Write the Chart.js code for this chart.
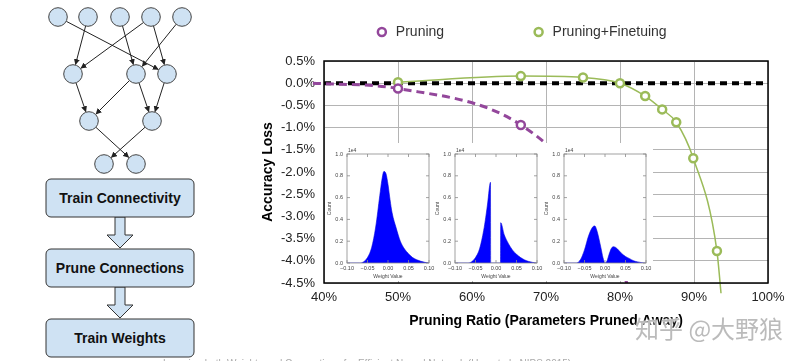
<!DOCTYPE html>
<html><head><meta charset="utf-8">
<script src="https://cdn.jsdelivr.net/npm/chart.js@4.4.0/dist/chart.umd.min.js"></script>
<style>
html,body{margin:0;padding:0;background:#fff;}
body{width:801px;height:361px;overflow:hidden;position:relative;font-family:"Liberation Sans",Arial,sans-serif;}
#diagram{position:absolute;left:0;top:0;}
#main{position:absolute;left:240px;top:0;}
#insets{position:absolute;left:325px;top:143px;width:328px;height:138px;background:#fff;}
.inset{position:absolute;top:0;}
#wm{position:absolute;left:635px;top:316px;font-family:"Noto Sans CJK SC";font-size:24px;line-height:24px;color:rgba(175,175,175,0.85);text-shadow:0 0 2px #fff,0 0 2px #fff;white-space:nowrap;}
#cap{position:absolute;left:163px;top:358px;font-size:10px;line-height:12px;color:#aaa;white-space:nowrap;}
</style></head><body>
<svg id="diagram" width="240" height="361" xmlns="http://www.w3.org/2000/svg">
  <defs>
    <marker id="ah" markerUnits="userSpaceOnUse" markerWidth="6" markerHeight="6" refX="5.5" refY="3" orient="auto">
      <path d="M0,0 L6,3 L0,6 z" fill="#222"/>
    </marker>
  </defs>
  <g id="edges" stroke="#222" stroke-width="1" fill="none"></g>
  <g id="nodes" fill="#cfe2f3" stroke="#444" stroke-width="1"></g>
  <g fill="#cfe2f3" stroke="#333" stroke-width="1">
    <polygon points="115,217 125,217 125,235 133,235 120,248 107,235 115,235"/>
    <polygon points="115,287 125,287 125,305 133,305 120,318 107,305 115,305"/>
    <rect x="46" y="179" width="148" height="38" rx="5"/>
    <rect x="46" y="249" width="148" height="38" rx="5"/>
    <rect x="46" y="319" width="148" height="38" rx="5"/>
  </g>
  <g font-family="Liberation Sans, Arial, sans-serif" font-weight="bold" font-size="14" fill="#111" text-anchor="middle" dominant-baseline="central">
    <text x="120" y="198">Train Connectivity</text>
    <text x="120" y="268">Prune Connections</text>
    <text x="120" y="338">Train Weights</text>
  </g>
</svg>
<canvas id="main" width="561" height="361"></canvas>
<div id="insets">
  <canvas class="inset" id="in1" width="112" height="138" style="left:0px"></canvas>
  <canvas class="inset" id="in2" width="112" height="138" style="left:108px"></canvas>
  <canvas class="inset" id="in3" width="112" height="138" style="left:217px"></canvas>
</div>
<div id="wm">知乎 @大野狼</div>
<div id="cap">Learning both Weights and Connections for Efficient Neural Network (Han et al., NIPS 2015)</div>
<script>
// ---------- data ----------
const seriesLabels = ['Pruning', 'Pruning+Finetuing'];
const pruneX = [38.5, 50, 66.6, 75, 80, 82];
const pruneY = [0.0, -0.12, -0.94, -2.35, -4.1, -5.0];
const finetuneX = [50, 66.6, 75, 80, 83.4, 85.7, 87.6, 89.9, 93.1, 93.65];
const finetuneY = [0.02, 0.16, 0.13, 0.0, -0.29, -0.59, -0.88, -1.69, -3.78, -4.73];
const baselineX = [40, 100];
const baselineY = [0, 0];

const hist1X = [-0.10, -0.07, -0.06, -0.05, -0.04, -0.03, -0.02, -0.015, -0.01, -0.005, 0.00, 0.005, 0.01, 0.02, 0.03, 0.04, 0.05, 0.06, 0.07, 0.08, 0.09, 0.10];
const hist1Y = [0, 0, 0.01, 0.05, 0.14, 0.33, 0.62, 0.76, 0.84, 0.82, 0.72, 0.58, 0.46, 0.32, 0.2, 0.13, 0.085, 0.05, 0.03, 0.016, 0.006, 0];
const hist2X = [-0.10, -0.07, -0.06, -0.05, -0.04, -0.03, -0.025, -0.02, -0.0155, -0.0135, -0.013, 0.011, 0.0115, 0.02, 0.03, 0.04, 0.05, 0.06, 0.07, 0.08, 0.09, 0.10];
const hist2Y = [0, 0, 0.01, 0.05, 0.13, 0.30, 0.42, 0.56, 0.71, 0.74, 0, 0, 0.37, 0.26, 0.18, 0.12, 0.08, 0.05, 0.028, 0.014, 0.005, 0];
const hist3X = [-0.10, -0.07, -0.06, -0.05, -0.04, -0.03, -0.025, -0.02, -0.01, -0.005, 0.00, 0.005, 0.01, 0.015, 0.02, 0.025, 0.03, 0.04, 0.05, 0.06, 0.07, 0.08, 0.09, 0.10];
const hist3Y = [0, 0, 0.03, 0.12, 0.25, 0.33, 0.34, 0.30, 0.14, 0.05, 0.0, 0.02, 0.08, 0.13, 0.15, 0.145, 0.13, 0.09, 0.06, 0.04, 0.02, 0.01, 0.003, 0];

// ---------- network diagram ----------
const nodeRows = [
  {y: 17, xs: [58, 88, 120, 151, 182]},
  {y: 74, xs: [73, 136, 167]},
  {y: 121, xs: [89, 152]},
  {y: 164, xs: [104, 136]}
];
const links = [ // [row, idx, idx in next row]
  [0,0,2],[0,1,0],[0,2,1],[0,3,0],[0,3,2],[0,4,1],
  [1,0,0],[1,1,0],[1,1,1],[1,2,1],
  [2,0,1],[2,1,0]
];
const NS = 'http://www.w3.org/2000/svg';
const R = 9.3;
const eg = document.getElementById('edges');
links.forEach(([r,a,b])=>{
  const x1 = nodeRows[r].xs[a], y1 = nodeRows[r].y, x2 = nodeRows[r+1].xs[b], y2 = nodeRows[r+1].y;
  const dx = x2-x1, dy = y2-y1, L = Math.hypot(dx,dy);
  const l = document.createElementNS(NS,'line');
  l.setAttribute('x1', x1 + dx/L*R); l.setAttribute('y1', y1 + dy/L*R);
  l.setAttribute('x2', x2 - dx/L*(R+0.5)); l.setAttribute('y2', y2 - dy/L*(R+0.5));
  l.setAttribute('marker-end','url(#ah)');
  eg.appendChild(l);
});
const ng = document.getElementById('nodes');
nodeRows.forEach(row=>row.xs.forEach(x=>{
  const c = document.createElementNS(NS,'circle');
  c.setAttribute('cx',x); c.setAttribute('cy',row.y); c.setAttribute('r',R);
  ng.appendChild(c);
}));

// ---------- main chart ----------
const PURPLE = '#93479b', GREEN = '#9bbb59';
const zip = (xs, ys) => xs.map((x,i)=>({x, y: ys[i]}));
const markerRadius = ctx => (ctx.raw && (ctx.raw.x < 40 || ctx.raw.y < -4.5)) ? 0 : 4;

const framePlugin = {
  id: 'frame',
  afterDatasetsDraw(chart) {
    const {ctx, chartArea: a} = chart;
    ctx.save();
    ctx.strokeStyle = '#000'; ctx.lineWidth = 1.5;
    ctx.strokeRect(a.left, a.top, a.right - a.left, a.bottom - a.top);
    ctx.restore();
  }
};
const legendPlugin = {
  id: 'customLegend',
  afterDraw(chart, args, opts) {
    const ctx = chart.ctx;
    ctx.save();
    ctx.font = '14px "Liberation Sans", Arial, sans-serif';
    const items = chart.data.datasets.filter(d => d.label);
    const r = 4.5, gapText = 14, gapItem = opts.gap;
    const widths = items.map(d => r + gapText + ctx.measureText(d.label).width);
    const total = widths.reduce((s,w)=>s+w,0) + gapItem*(items.length-1);
    let x = opts.centerX - total/2;
    items.forEach((d,i)=>{
      const cx = x + r;
      ctx.beginPath(); ctx.arc(cx, opts.y, 4, 0, Math.PI*2);
      ctx.fillStyle = '#fff'; ctx.fill();
      ctx.lineWidth = 2.5; ctx.strokeStyle = d.borderColor; ctx.stroke();
      ctx.fillStyle = '#333'; ctx.textBaseline = 'middle'; ctx.textAlign = 'left';
      ctx.fillText(d.label, cx + gapText, opts.y + 0.5);
      x += widths[i] + gapItem;
    });
    ctx.restore();
  }
};

new Chart(document.getElementById('main'), {
  type: 'line',
  data: {
    datasets: [
      {label: seriesLabels[0], data: zip(pruneX, pruneY), borderColor: PURPLE, backgroundColor: '#fff',
       borderWidth: 3, borderDash: [8,5], pointRadius: markerRadius, pointBorderWidth: 2.5,
       pointBackgroundColor: '#fff', pointBorderColor: PURPLE, cubicInterpolationMode: 'monotone',
       clip: {left: 15, top: 0, right: 0, bottom: 0}},
      {label: seriesLabels[1], data: zip(finetuneX, finetuneY), borderColor: GREEN, backgroundColor: '#fff',
       borderWidth: 1.5, pointRadius: markerRadius, pointBorderWidth: 2.5,
       pointBackgroundColor: '#fff', pointBorderColor: GREEN, cubicInterpolationMode: 'monotone',
       clip: {left: 0, top: 0, right: 0, bottom: 12}},
      {data: zip(baselineX, baselineY), borderColor: '#000', borderWidth: 4, borderDash: [7,5],
       pointRadius: 0, borderCapStyle: 'butt'}
    ]
  },
  options: {
    responsive: false, animation: false, devicePixelRatio: 1,
    layout: {padding: {left: 20, top: 61, right: 33, bottom: 31.6}},
    plugins: {legend: {display: false}, tooltip: {enabled: false},
      customLegend: {centerX: 282, y: 32, gap: 90}},
    scales: {
      x: {type: 'linear', min: 40, max: 100,
        afterFit(s) { s.height = 46.4; },
        border: {display: false},
        grid: {color: '#b4b4b4', lineWidth: 1, drawTicks: false},
        ticks: {stepSize: 10, padding: 7, color: '#222', font: {family: '"Liberation Sans", Arial, sans-serif', size: 13},
          callback: v => v + '%'},
        title: {display: true, text: 'Pruning Ratio (Parameters Pruned Away)', color: '#000', padding: 0,
          font: {family: '"Liberation Sans", Arial, sans-serif', size: 14, weight: 'bold'}}
      },
      y: {type: 'linear', min: -4.5, max: 0.5,
        afterFit(s) { s.width = 64; },
        border: {display: false},
        grid: {color: '#b4b4b4', lineWidth: 1, drawTicks: false},
        ticks: {stepSize: 0.5, padding: 9, color: '#222', font: {family: '"Liberation Sans", Arial, sans-serif', size: 13},
          callback: v => v.toFixed(1) + '%'},
        title: {display: true, text: 'Accuracy Loss', color: '#000', padding: 0,
          font: {family: '"Liberation Sans", Arial, sans-serif', size: 14, weight: 'bold'}}
      }
    }
  },
  plugins: [framePlugin, legendPlugin]
});

// ---------- inset histograms ----------
const insetFrame = {
  id: 'insetFrame',
  afterDraw(chart) {
    const {ctx, chartArea: a, scales: {x, y}} = chart;
    ctx.save();
    ctx.strokeStyle = '#8a8a8a'; ctx.lineWidth = 0.8;
    ctx.strokeRect(a.left, a.top, a.right - a.left, a.bottom - a.top);
    ctx.beginPath();
    x.ticks.forEach(t => { const p = x.getPixelForValue(t.value);
      ctx.moveTo(p, a.bottom); ctx.lineTo(p, a.bottom - 3); ctx.moveTo(p, a.top); ctx.lineTo(p, a.top + 3); });
    y.ticks.forEach(t => { const p = y.getPixelForValue(t.value);
      ctx.moveTo(a.left, p); ctx.lineTo(a.left + 3, p); ctx.moveTo(a.right, p); ctx.lineTo(a.right - 3, p); });
    ctx.stroke();
    ctx.fillStyle = '#444'; ctx.font = '5px "Liberation Sans", Arial, sans-serif';
    ctx.textBaseline = 'bottom'; ctx.textAlign = 'left';
    ctx.fillText('1e4', a.left + 1, a.top - 0.5);
    ctx.restore();
  }
};
const fmt = (v, d) => (v < -1e-9 ? '\u2212' : '') + Math.abs(v).toFixed(d);
function makeInset(id, xs, ys) {
  new Chart(document.getElementById(id), {
    type: 'line',
    data: {datasets: [{data: zip(xs, ys), fill: 'origin', backgroundColor: '#0000ff', borderColor: '#0000dd',
      borderWidth: 0.6, pointRadius: 0, cubicInterpolationMode: 'monotone'}]},
    options: {
      responsive: false, animation: false, devicePixelRatio: 1,
      layout: {padding: {left: 2, top: 11, right: 8, bottom: 1.4}},
      plugins: {legend: {display: false}, tooltip: {enabled: false}},
      scales: {
        x: {type: 'linear', min: -0.1, max: 0.1, afterFit(s) { s.height = 16.6; },
          border: {display: false}, grid: {display: false, drawTicks: false},
          ticks: {stepSize: 0.05, padding: 2, color: '#444', maxRotation: 0, autoSkip: false,
            font: {family: '"Liberation Sans", Arial, sans-serif', size: 5.5}, callback: v => fmt(v, 2)},
          title: {display: true, text: 'Weight Value', color: '#444', padding: 0,
            font: {family: '"Liberation Sans", Arial, sans-serif', size: 5}}},
        y: {type: 'linear', min: 0, max: 1.0, afterFit(s) { s.width = 20; },
          border: {display: false}, grid: {display: false, drawTicks: false},
          ticks: {stepSize: 0.2, padding: 4, color: '#444', autoSkip: false,
            font: {family: '"Liberation Sans", Arial, sans-serif', size: 5.5}, callback: v => fmt(v, 1)},
          title: {display: true, text: 'Count', color: '#444', padding: 0,
            font: {family: '"Liberation Sans", Arial, sans-serif', size: 5}}}
      }
    },
    plugins: [insetFrame]
  });
}
makeInset('in1', hist1X, hist1Y);
makeInset('in2', hist2X, hist2Y);
makeInset('in3', hist3X, hist3Y);
</script>
</body></html>
